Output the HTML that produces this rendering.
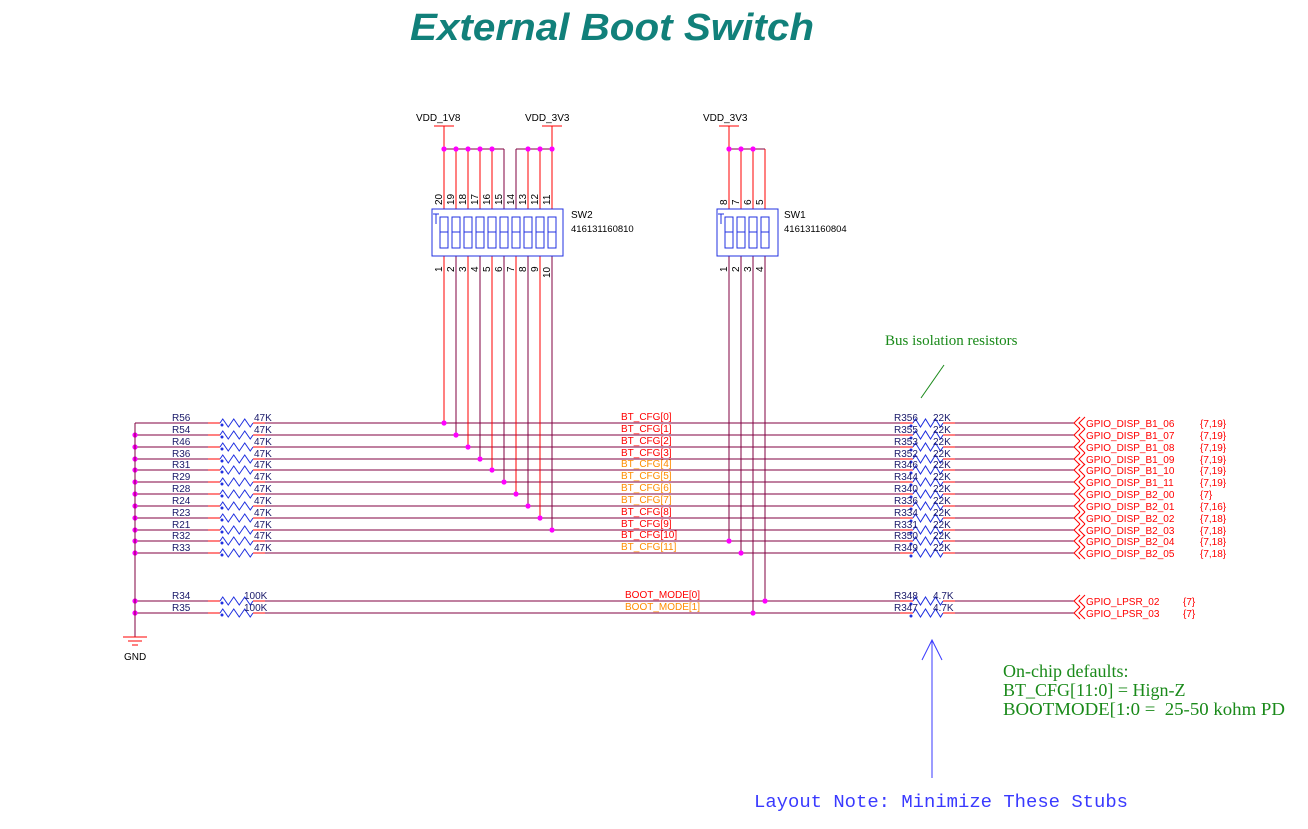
<!DOCTYPE html>
<html><head><meta charset="utf-8"><style>
html,body{margin:0;padding:0;background:#fff;width:1308px;height:829px;overflow:hidden}
svg{display:block}
text{font-family:"Liberation Sans",sans-serif}
</style></head><body>
<svg id="s" width="1308" height="829" xmlns="http://www.w3.org/2000/svg">
<text x="612" y="40" text-anchor="middle" font-size="38" font-weight="bold" font-style="italic" fill="#11807a" textLength="404" lengthAdjust="spacingAndGlyphs">External Boot Switch</text>
<text x="885" y="345" font-size="15" fill="#1a8a1a" style="font-family:'Liberation Serif',serif">Bus isolation resistors</text>
<line x1="944" y1="365" x2="921" y2="398" stroke="#1a8a1a" stroke-width="1"/>
<g font-size="18" fill="#1a8a1a">
<text x="1003" y="677" style="font-family:'Liberation Serif',serif">On-chip defaults:</text>
<text x="1003" y="696" style="font-family:'Liberation Serif',serif">BT_CFG[11:0] = Hign-Z</text>
<text x="1003" y="715" style="font-family:'Liberation Serif',serif;white-space:pre" xml:space="preserve" textLength="282" lengthAdjust="spacingAndGlyphs">BOOTMODE[1:0 =  25-50 kohm PD</text>
</g>
<text x="754" y="807" font-size="18" fill="#3a3aff" style="font-family:'Liberation Mono',monospace" textLength="374" lengthAdjust="spacingAndGlyphs">Layout Note: Minimize These Stubs</text>
<line x1="932" y1="778" x2="932" y2="641" stroke="#3a3aff" stroke-width="1"/>
<polyline points="922,660 932,640 942,660" fill="none" stroke="#3a3aff" stroke-width="1"/>
<g id="g"></g>
</svg>
<script>
var g=document.getElementById('g'),h='';
var M='#800040',R='#ff0000',P='#ff00ff',B='#2030e0',N='#1a1a6a';
function L(a,b,c,d,col){h+='<line x1="'+a+'" y1="'+b+'" x2="'+c+'" y2="'+d+'" stroke="'+col+'" stroke-width="1"/>';}
function D(x,y,c,r){h+='<circle cx="'+x+'" cy="'+y+'" r="'+(r||2.6)+'" fill="'+(c||P)+'"/>';}
function T(x,y,t,c,s,extra){h+='<text x="'+x+'" y="'+y+'" font-size="'+(s||10)+'" fill="'+c+'" '+(extra||'')+'>'+t+'</text>';}
function Z(x1,x2,y){var p=[],n=6,w=(x2-x1)/n;p.push(x1+','+y);for(var i=0;i<n;i++){p.push((x1+w*(i+0.5))+','+(y+(i%2?4:-4)));}p.push(x2+','+y);h+='<polyline points="'+p.join(' ')+'" fill="none" stroke="'+B+'" stroke-width="1"/>';}
var rows=[423,435,447,459,470,482,494,506,518,530,541,553];
var lr=['R56','R54','R46','R36','R31','R29','R28','R24','R23','R21','R32','R33'];
var rr=['R356','R355','R353','R352','R346','R344','R340','R336','R334','R331','R350','R349'];
var gp=['B1_06','B1_07','B1_08','B1_09','B1_10','B1_11','B2_00','B2_01','B2_02','B2_03','B2_04','B2_05'];
var rf=['{7,19}','{7,19}','{7,19}','{7,19}','{7,19}','{7,19}','{7}','{7,16}','{7,18}','{7,18}','{7,18}','{7,18}'];
var cc=[R,R,R,R,'#ff8c00','#ff8c00','#ff8c00','#ff8c00',R,R,R,'#ff8c00'];
function row(y,ln,lv,rn,rv,name,ref,lab,lc,lx,rx){
 L(135,y,208,y,M);L(208,y,220,y,R);Z(220,253,y);L(253,y,265,y,R);D(222,y+2,B,1.5);
 L(265,y,900,y,M);L(900,y,913,y,R);Z(913,943,y);L(943,y,955,y,R);D(911,y+3,B,1.5);L(955,y,1074,y,M);
 h+='<polyline points="1080,'+(y-6)+' 1074,'+y+' 1080,'+(y+6)+'" fill="none" stroke="'+R+'"/><polyline points="1085,'+(y-6)+' 1079,'+y+' 1085,'+(y+6)+'" fill="none" stroke="'+R+'"/>';
 T(172,y-2,ln,N);T(lv=='100K'?244:254,y-2,lv,N);T(894,y-2,rn,N);T(933,y-2,rv,N);
 T(1086,y+4,name,R,10);T(rx,y+4,ref,R,10);T(lx,y-3,lab,lc);
 if(y>423)D(135,y);
}
for(var i=0;i<12;i++)row(rows[i],lr[i],'47K',rr[i],'22K','GPIO_DISP_'+gp[i],rf[i],'BT_CFG['+i+']',cc[i],621,1200);
row(601,'R34','100K','R348','4.7K','GPIO_LPSR_02','{7}','BOOT_MODE[0]',R,625,1183);
row(613,'R35','100K','R347','4.7K','GPIO_LPSR_03','{7}','BOOT_MODE[1]','#ff8c00',625,1183);
L(135,423,135,637,M);L(123,637,147,637,R);L(128,641,142,641,R);L(132,645,138,645,R);T(124,660,'GND','#000');
var xs=[444,456,468,480,492,504,516,528,540,552];
L(444,149,504,149,M);L(516,149,552,149,M);
L(434,126,454,126,R);L(444,126,444,149,R);L(542,126,562,126,R);L(552,126,552,149,R);
T(416,121,'VDD_1V8','#000');T(525,121,'VDD_3V3','#000');
for(var k=0;k<10;k++){var x=xs[k];L(x,149,x,209,k<5||k>6?R:M);if(k<5||k>6)D(x,149);
 L(x,256,x,rows[k],k%2?M:R);D(x,rows[k]);
 h+='<text transform="translate('+(x-2)+',205) rotate(-90)" font-size="10" fill="#000">'+(20-k)+'</text>';
 h+='<text transform="translate('+(x-2)+','+(k==9?278:272)+') rotate(-90)" font-size="10" fill="#000">'+(k+1)+'</text>';
 h+='<rect x="'+(x-4)+'" y="217" width="8" height="31" fill="none" stroke="'+B+'"/>';L(x-4,232,x+4,232,B);}
h+='<rect x="432" y="209" width="131" height="47" fill="none" stroke="'+B+'"/>';L(436,214,436,224,B);L(433,214,439,214,B);
T(571,218,'SW2','#000');T(571,232,'416131160810','#000',9.5);
var ys=[729,741,753,765],tgt=[541,553,613,601];
L(729,149,765,149,M);L(719,126,739,126,R);L(729,126,729,149,R);T(703,121,'VDD_3V3','#000');
for(k=0;k<4;k++){x=ys[k];L(x,149,x,209,R);if(k<3)D(x,149);L(x,256,x,tgt[k],M);D(x,tgt[k]);
 h+='<text transform="translate('+(x-2)+',205) rotate(-90)" font-size="10" fill="#000">'+(8-k)+'</text>';
 h+='<text transform="translate('+(x-2)+',272) rotate(-90)" font-size="10" fill="#000">'+(k+1)+'</text>';
 h+='<rect x="'+(x-4)+'" y="217" width="8" height="31" fill="none" stroke="'+B+'"/>';L(x-4,232,x+4,232,B);}
h+='<rect x="717" y="209" width="61" height="47" fill="none" stroke="'+B+'"/>';L(721,214,721,224,B);L(718,214,724,214,B);
T(784,218,'SW1','#000');T(784,232,'416131160804','#000',9.5);
g.innerHTML=h;
</script>
</body></html>
